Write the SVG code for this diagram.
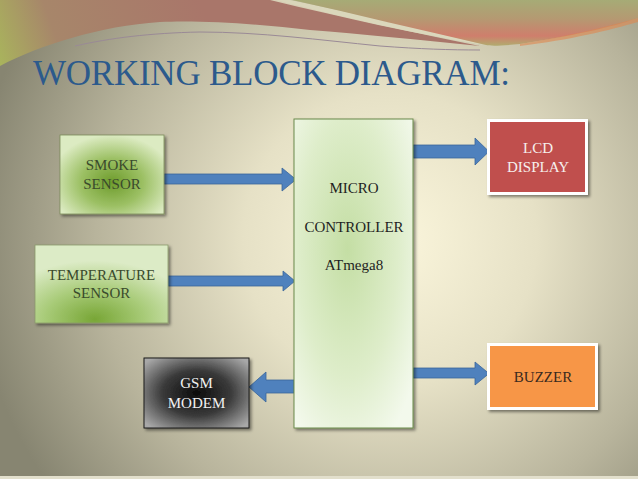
<svg xmlns="http://www.w3.org/2000/svg" width="638" height="479" viewBox="0 0 638 479">
<defs>
<radialGradient id="bg" cx="390" cy="240" r="420" gradientUnits="userSpaceOnUse">
<stop offset="0" stop-color="#fbf6dc"/>
<stop offset="0.35" stop-color="#e6e1c6"/>
<stop offset="0.7" stop-color="#b8b49c"/>
<stop offset="1" stop-color="#878571"/>
</radialGradient>
<linearGradient id="leftTop" x1="0" y1="70" x2="200" y2="0" gradientUnits="userSpaceOnUse">
<stop offset="0" stop-color="#a9b55c"/>
<stop offset="0.3" stop-color="#a7866a"/>
<stop offset="1" stop-color="#a9766a"/>
</linearGradient>
<linearGradient id="rightTop" x1="0" y1="0" x2="0" y2="45" gradientUnits="userSpaceOnUse">
<stop offset="0" stop-color="#a6ab76"/>
<stop offset="0.4" stop-color="#b49a72"/>
<stop offset="0.8" stop-color="#cf7e6c"/>
<stop offset="1" stop-color="#b3a86e"/>
</linearGradient>
<radialGradient id="gSmoke" cx="0.5" cy="0.6" r="0.6">
<stop offset="0" stop-color="#6e9c2c"/>
<stop offset="0.5" stop-color="#9cc064"/>
<stop offset="1" stop-color="#dcebc2"/>
</radialGradient>
<radialGradient id="gTemp" cx="0.45" cy="0.95" r="0.75">
<stop offset="0" stop-color="#78a636"/>
<stop offset="0.5" stop-color="#a8cb78"/>
<stop offset="1" stop-color="#dcebc6"/>
</radialGradient>
<radialGradient id="gMicro" cx="0.45" cy="0.42" r="0.7">
<stop offset="0" stop-color="#c4dea4"/>
<stop offset="0.6" stop-color="#deedca"/>
<stop offset="1" stop-color="#f3f9ec"/>
</radialGradient>
<radialGradient id="gGsm" cx="0.5" cy="0.5" r="0.65">
<stop offset="0" stop-color="#0c0c0c"/>
<stop offset="0.5" stop-color="#3a3a3a"/>
<stop offset="1" stop-color="#a8a8a8"/>
</radialGradient>
<filter id="sh" x="-10%" y="-10%" width="130%" height="130%">
<feDropShadow dx="2" dy="2" stdDeviation="1.5" flood-color="#000" flood-opacity="0.45"/>
</filter>
</defs>
<style>
.node text{font-family:"Liberation Serif","DejaVu Serif",serif;font-size:15px;text-anchor:middle}
.arrow{fill:#4f81bd;stroke:#3b6699;stroke-width:0.8}
.title{font-family:"Liberation Serif","DejaVu Serif",serif;font-size:35px;fill:#2c5a8c}
</style>
<rect width="638" height="479" fill="url(#bg)"/>
<rect y="476" width="638" height="3" fill="#e2dfcc"/>
<g id="decoration">
<path d="M0,0 H276 C330,14 400,30 480,46 C420,40 360,34 310,30 C260,24 200,20 160,22 C100,26 40,45 0,66 Z" fill="url(#leftTop)"/>
<path d="M270,0 H290 C350,12 420,28 485,45 C415,34 345,18 270,0 Z" fill="#dcd8bc" opacity="0.9"/>
<path d="M292,0 H638 V18 C610,28 570,36 520,44 C500,46 490,46 486,45 C420,30 355,14 292,0 Z" fill="url(#rightTop)"/>
<path d="M520,44 C570,36 610,26 638,18 V22 C610,30 570,40 520,46 Z" fill="#e0874e" opacity="0.6"/>
<path d="M75,46 C110,38 150,33 200,32 C260,32 320,40 380,46 C420,49 450,50 480,50" fill="none" stroke="#9a8a96" stroke-width="1"/>
</g>
<text class="title" x="33" y="85" textLength="477">WORKING BLOCK DIAGRAM:</text>
<g id="connectors">
<polygon class="arrow" points="164,174 282,174 282,168 296,179.5 282,191 282,184 164,184"/>
<polygon class="arrow" points="168,276 283,276 283,271 295,281 283,291 283,286 168,286"/>
<polygon class="arrow" points="413,145 475,145 475,138 489,151.5 475,165 475,158 413,158"/>
<polygon class="arrow" points="413,368 475,368 475,362 489,373.5 475,385 475,378 413,378"/>
<polygon class="arrow" points="294,380 266,380 266,372 249,387 266,402 266,393 294,393"/>
</g>
<g id="smoke" class="node">
<rect x="60" y="135" width="104" height="79" fill="url(#gSmoke)" stroke="#7a8a5a" stroke-width="0.8" filter="url(#sh)"/>
<text x="112" y="170" fill="#3a4a2c">SMOKE</text>
<text x="112" y="189" fill="#3a4a2c">SENSOR</text>
</g>
<g id="temperature" class="node">
<rect x="35" y="245" width="133" height="78" fill="url(#gTemp)" stroke="#8a9a6a" stroke-width="0.8" filter="url(#sh)"/>
<text x="101.5" y="280" fill="#3a4a2c">TEMPERATURE</text>
<text x="101.5" y="298" fill="#3a4a2c">SENSOR</text>
</g>
<g id="gsm" class="node">
<rect x="144" y="358" width="105" height="70" fill="url(#gGsm)" stroke="#1a1a1a" stroke-width="1" filter="url(#sh)"/>
<text x="196.5" y="388" fill="#f2f2f2">GSM</text>
<text x="196.5" y="408" fill="#f2f2f2">MODEM</text>
</g>
<g id="micro" class="node">
<rect x="294" y="119" width="119" height="309" fill="url(#gMicro)" stroke="#6b8a4a" stroke-width="1" filter="url(#sh)"/>
<text x="354" y="193" fill="#1e1e1e">MICRO</text>
<text x="354" y="232" fill="#1e1e1e">CONTROLLER</text>
<text x="354" y="270" fill="#1e1e1e">ATmega8</text>
</g>
<g id="lcd" class="node">
<rect x="488.5" y="120.5" width="98" height="73" fill="#c0504d" stroke="#ffffff" stroke-width="3" filter="url(#sh)"/>
<text x="538" y="153" fill="#f6f0ee">LCD</text>
<text x="538" y="172" fill="#f6f0ee">DISPLAY</text>
</g>
<g id="buzzer" class="node">
<rect x="488.5" y="344.5" width="108" height="64" fill="#f79646" stroke="#ffffff" stroke-width="3" filter="url(#sh)"/>
<text x="543" y="382" fill="#3a2a1e">BUZZER</text>
</g>
</svg>
